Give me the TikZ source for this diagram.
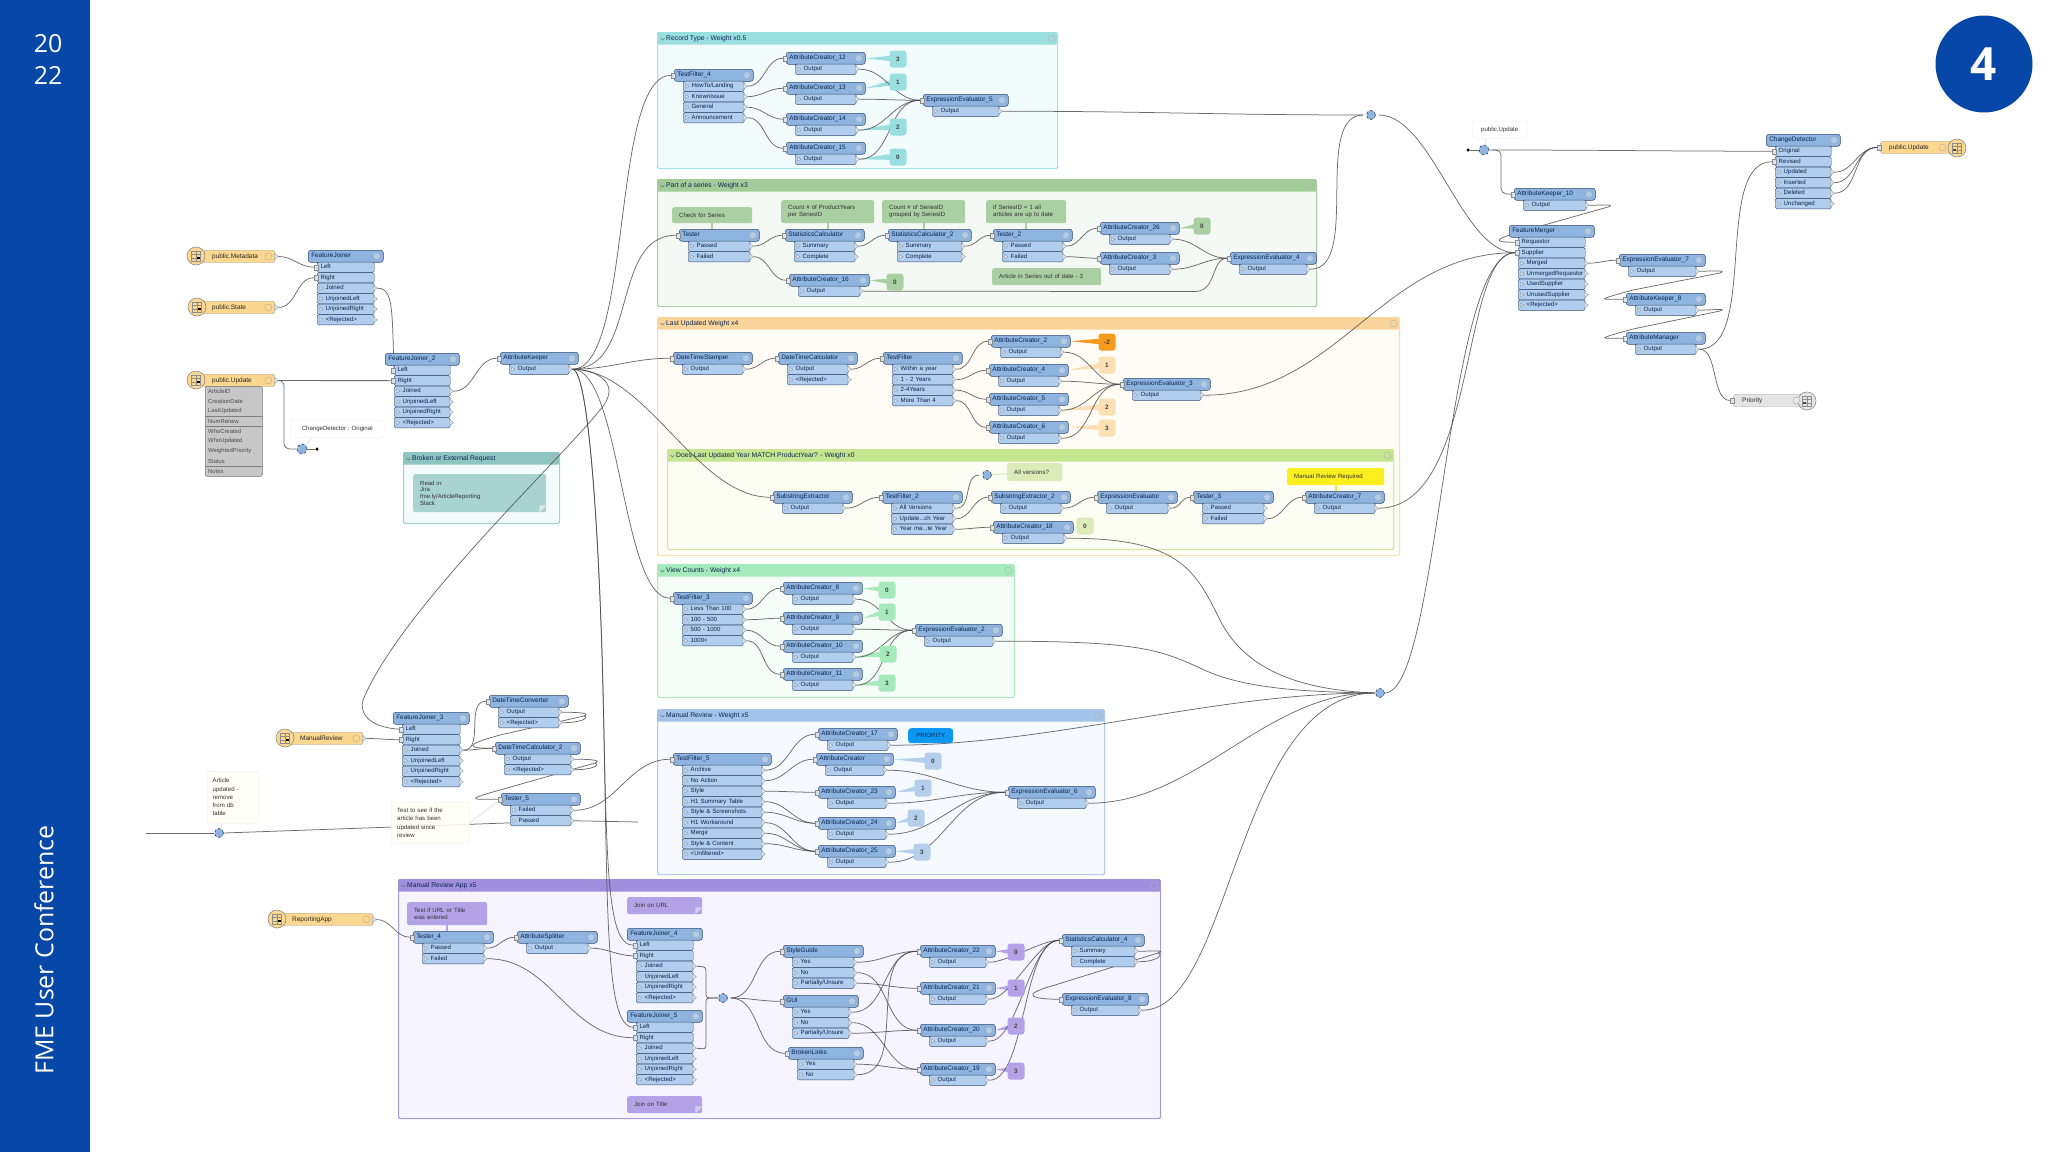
\documentclass[tikz,border=0pt]{standalone}
\usepackage{fontspec}
\setmainfont{Liberation Sans}
\newfontfamily\osans{Open Sans}
\usetikzlibrary{calc}
\newcommand\ddd{.\kern0pt.\kern0pt.}
\newcommand\rp{10.5}
\newcommand\ro{17.2}
\pgfdeclarelayer{bgl}\pgfdeclarelayer{wirel}
\pgfsetlayers{bgl,wirel,main}
\definecolor{navy}{HTML}{0B2450}
\definecolor{slide}{HTML}{0647A8}
\definecolor{tTitle}{HTML}{8FB4E0}
\definecolor{tRow}{HTML}{B2CEEE}
\definecolor{tEdge}{HTML}{31496E}
\definecolor{tabc}{HTML}{D9E3EF}
\definecolor{rdrc}{HTML}{FBD78F}
\definecolor{priN}{HTML}{0C97F2}
\definecolor{oraN}{HTML}{F59A1C}
\definecolor{yelN}{HTML}{FBEF1F}
\definecolor{rtH}{HTML}{9ADFE0}\definecolor{rtE}{HTML}{A3E5E6}\definecolor{rtB}{HTML}{F3FCFD}
\definecolor{psH}{HTML}{A1CC98}\definecolor{psE}{HTML}{AAD1A3}\definecolor{psB}{HTML}{F5F9F5}\definecolor{psN}{HTML}{A9CFA2}
\definecolor{luH}{HTML}{FAD59B}\definecolor{luE}{HTML}{FADFB0}\definecolor{luB}{HTML}{FFFCF5}\definecolor{luN}{HTML}{FBE0B4}
\definecolor{lmH}{HTML}{C6E590}\definecolor{lmE}{HTML}{D0E8A2}\definecolor{lmB}{HTML}{FCFDF3}\definecolor{lmN}{HTML}{DDEBB9}
\definecolor{vcH}{HTML}{A6E9BA}\definecolor{vcE}{HTML}{ADEBC1}\definecolor{vcB}{HTML}{F4FDF7}
\definecolor{mrH}{HTML}{A3C4E8}\definecolor{mrE}{HTML}{B1CCE8}\definecolor{mrB}{HTML}{F6FAFE}\definecolor{mrN}{HTML}{B4CFEC}
\definecolor{apH}{HTML}{A08FDC}\definecolor{apE}{HTML}{A99BDF}\definecolor{apB}{HTML}{F6F4FF}\definecolor{apN}{HTML}{B3A3E6}
\definecolor{beH}{HTML}{8EC5C1}\definecolor{beE}{HTML}{A6D0D0}\definecolor{beB}{HTML}{F3FBFB}\definecolor{beN}{HTML}{A9D3CF}
\tikzset{
  tft/.style={anchor=north west,rectangle,rounded corners=2.5bp,fill=tTitle,draw=tEdge,line width=.5bp,
     minimum height=12bp,inner xsep=3bp,inner ysep=0pt,align=left,font=\fontsize{6.5}{7}\selectfont,text=navy},
  tfr/.style={anchor=west,rectangle,rounded corners=1.5bp,fill=tRow,draw=tEdge,line width=.45bp,
     inner xsep=2bp,inner ysep=0pt,align=left,font=\fontsize{6.1}{7}\selectfont,text=navy},
  wire/.style={draw=black!72,line width=.75bp,draw opacity=.8},
  tab/.style={fill=tabc,draw=black!45,line width=.3bp},
  gear/.style={circle,minimum size=7bp,inner sep=0pt,fill=tTitle!70!white,draw=black!35,line width=.3bp},
  junc/.style={circle,minimum size=10bp,inner sep=0pt,fill=tTitle,draw=tEdge,line width=.6bp,densely dashed},
  rbar/.style={anchor=north west,rectangle,rounded corners=3bp,draw=black!35,line width=.4bp,minimum height=12.5bp,
     inner xsep=0pt,inner ysep=0pt,align=left,font=\fontsize{6.5}{7}\selectfont,text=black!85},
  note/.style={rectangle,rounded corners=2bp,inner sep=3bp,align=left,font=\fontsize{6.1}{7}\selectfont,text=black!80},
  wnote/.style={note,anchor=north west,fill=yellow!3,draw=black!8,font=\fontsize{6.1}{8.3}\selectfont},
  numn/.style={rectangle,rounded corners=3bp,inner sep=0pt,minimum size=17bp,align=center,font=\bfseries\fontsize{6.4}{7}\selectfont,text=black!75},
  bmt/.style={anchor=west,inner sep=0pt,font=\fontsize{6.8}{8}\selectfont,text=navy},
  side/.style={text=white,font=\osans\fontsize{25}{27}\selectfont,inner sep=0pt}
}
% row of a transformer: name, x, y-centre, w, text, indent
\newcommand\trow[6]{%
  \node[tfr,minimum width=#4 bp,minimum height={(\rp-.2)*1bp},text width={(#4-4)*1bp}] (#1) at (#2,#3) {\hspace*{#6bp}\mbox{\vphantom{Ag}#5}};
}
\newcommand\outtab[1]{\path[tab] ([xshift=-1bp,yshift=3bp]#1.east) -- ([xshift=3bp]#1.east) -- ([xshift=-1bp,yshift=-3bp]#1.east) -- cycle;
  \path[tab] ([xshift=2.5bp,yshift=2bp]#1.west) -- ([xshift=6bp]#1.west) -- ([xshift=2.5bp,yshift=-2bp]#1.west) -- cycle;}
\newcommand\intab[1]{\path[tab] ([xshift=-3bp,yshift=2.5bp]#1.west) -- ([xshift=1bp,yshift=2.5bp]#1.west) -- ([xshift=1bp,yshift=-2.5bp]#1.west) -- ([xshift=-3bp,yshift=-2.5bp]#1.west) -- cycle;}
\newcommand\ttitle[5]{%
  \node[tft,minimum width=#4 bp,text width={(#4-6)*1bp}] (#1) at (#2,#3) {\mbox{\vphantom{Ag}#5}};
  \node[gear] (#1-g) at ([xshift=-6.5bp]#1.east) {};
}
% ordinary transformer: name x y w title outputs
\newcommand\tf[6]{%
  \ttitle{#1}{#2}{#3}{#4}{#5}\intab{#1}
  \pgfmathsetmacro\rx{#2+9}\pgfmathsetmacro\rw{#4-18}
  \foreach \t [count=\k] in {#6}{%
    \pgfmathsetmacro\ry{#3+\ro+(\k-1)*\rp}
    \trow{#1-o\k}{\rx}{\ry}{\rw}{\t}{6.5}\outtab{#1-o\k}
  }%
}
% two-input transformer: name x y w title in1 in2 outputs
\newcommand\tj[8]{%
  \ttitle{#1}{#2}{#3}{#4}{#5}
  \pgfmathsetmacro\rx{#2+9}\pgfmathsetmacro\rw{#4-18}
  \pgfmathsetmacro\ry{#3+\ro}\trow{#1-i1}{\rx}{\ry}{\rw}{#6}{1.5}\intab{#1-i1}
  \pgfmathsetmacro\ry{#3+\ro+\rp}\trow{#1-i2}{\rx}{\ry}{\rw}{#7}{1.5}\intab{#1-i2}
  \foreach \t [count=\k] in {#8}{%
    \pgfmathsetmacro\ry{#3+\ro+(\k+1)*\rp}
    \trow{#1-o\k}{\rx}{\ry}{\rw}{\t}{6.5}\outtab{#1-o\k}
  }%
}
% bookmark: name x0 y0 x1 y1 H E B title
\newcommand\bm[9]{%
  \begin{pgfonlayer}{bgl}
  \node[anchor=north west,rectangle,rounded corners=1.5bp,fill=#8,draw=#7,line width=1.2bp,inner sep=0pt,
     minimum width={(#4-#2)*1bp},minimum height={(#5-#3)*1bp}] (#1) at (#2,#3) {};
  \node[anchor=north west,rectangle,rounded corners=1bp,fill=#6,inner sep=0pt,
     minimum width={(#4-#2)*1bp},minimum height=12.5bp] (#1-h) at (#2,#3) {};
  \node[bmt] (#1-t) at ([xshift=9bp]#1-h.west) {#9};
  \node[circle,minimum size=7bp,inner sep=0pt,draw=black!30,line width=.4bp] (#1-g) at ([xshift=-6bp]#1-h.east) {};
  \draw[black!55,line width=.5bp] ([xshift=3.5bp,yshift=.5bp]#1-h.west) -- ([xshift=5.5bp,yshift=-1.5bp]#1-h.west) -- ([xshift=7.5bp,yshift=.5bp]#1-h.west);
  \end{pgfonlayer}
}
% numbered note: name cx cy colour text target
\newcommand\num[6]{%
  \node[numn,fill=#4] (#1) at (#2,#3) {#5};
  \begin{pgfonlayer}{wirel}
  \fill[#4] ([yshift=4bp]#1.center) -- (#6.east) -- ([yshift=-3bp]#1.center) -- cycle;
  \end{pgfonlayer}
}
% text note: name x0 y0 x1 y1 colour text
\newcommand\nt[7]{%
  \node[note,anchor=north west,fill=#6,minimum width={(#4-#2)*1bp},minimum height={(#5-#3)*1bp},text width={(#4-#2-14)*1bp},inner xsep=7bp] (#1) at (#2,#3) {#7};
}
\newcommand\stem[3]{\begin{pgfonlayer}{wirel}\draw[#3,line width=1.6bp] (#1.south) -- (#1.south |- #2.north);\end{pgfonlayer}}
% table icon in a circle
\newcommand\dbc[4]{%
  \node[circle,minimum size=18bp,inner sep=0pt,fill=#4,draw=black!45,line width=.6bp] (#1) at (#2,#3) {};
  \draw[black!45,line width=.4bp] ($(#1)+(-4.5,-5)$) rectangle ($(#1)+(4.5,5)$)
     ($(#1)+(-4.5,-1.7)$) -- ($(#1)+(4.5,-1.7)$) ($(#1)+(-4.5,1.7)$) -- ($(#1)+(4.5,1.7)$) ($(#1)+(0,-5)$) -- ($(#1)+(0,5)$);
}
% reader: name x0 y x1 cx cy text
\newcommand\rdr[7]{%
  \node[rbar,fill=rdrc,minimum width={(#4-#2)*1bp},text width={(#4-#2)*1bp}] (#1) at (#2,#3) {\hspace*{10bp}\mbox{\vphantom{Ag}#7}};
  \dbc{#1-c}{#5}{#6}{rdrc}
  \fill[black] ($(#1-c)+(1,.5)$) rectangle ($(#1-c)+(4,2.5)$);
  \node[gear,fill=rdrc] (#1-g) at ([xshift=-7bp]#1.east) {};
  \path[tab] ([xshift=-1bp,yshift=3bp]#1.east) -- ([xshift=3bp]#1.east) -- ([xshift=-1bp,yshift=-3bp]#1.east) -- cycle;
}
% writer: name x0 y x1 cx cy text fill
\newcommand\wtr[8]{%
  \node[rbar,fill=#8,minimum width={(#4-#2)*1bp},text width={(#4-#2)*1bp}] (#1) at (#2,#3) {\hspace*{9bp}\mbox{\vphantom{Ag}#7}};
  \dbc{#1-c}{#5}{#6}{#8}
  \fill[black!70] ($(#1-c)+(-4,.5)$) rectangle ($(#1-c)+(-1,2.5)$);
  \node[gear,fill=#8] (#1-g) at ([xshift=-12bp]#1.east) {};
  \intab{#1}
}
\newcommand\wire[3][1]{\draw[wire] ([xshift=3bp]#2.east) to[out=0,in=180,looseness=#1] ([xshift=-3bp]#3.west);}
% back loop: from, to, right tip x y, left tip x y
\newcommand\backw[6]{\draw[wire] ([xshift=3bp]#1.east) .. controls +(14,0) and +(8,-3) .. (#3,#4) -- (#5,#6) .. controls +(-40,11) and +(-22,0) .. ([xshift=-3bp]#2.west);}
\newcommand\tipw[3]{\draw[wire] ([xshift=3bp]#1.east) .. controls +(18,0) and +(6,2) .. (#2,#3);}
\begin{document}
\begin{tikzpicture}[x=1bp,y=-1bp]
\useasboundingbox (0,0) rectangle (2048,1152);
% slide furniture
\node[anchor=north west,rectangle,fill=slide,inner sep=0pt,minimum width=90bp,minimum height=1152bp] (panel) at (0,0) {};
\node[side] (y1) at (48,44) {20};
\node[side] (y2) at (48,75) {22};
\node[side,rotate=90] (conf) at (44,950) {FME User Conference};
\node[circle,fill=slide,minimum size=97bp,inner sep=0pt,text=white,font=\osans\bfseries\fontsize{46}{48}\selectfont] (badge) at (1984,64) {4};

% bookmarks
\bm{bRT}{657}{32}{1057}{168}{rtH}{rtE}{rtB}{Record Type - Weight x0.5}
\bm{bPS}{657}{179}{1316}{306}{psH}{psE}{psB}{Part of a series - Weight x3}
\bm{bLU}{657}{317}{1399}{555}{luH}{luE}{luB}{Last Updated Weight x4}
\bm{bLM}{667}{449}{1393}{549}{lmH}{lmE}{lmB}{Does Last Updated Year MATCH ProductYear? - Weight x0}
\bm{bVC}{657}{564}{1014}{697}{vcH}{vcE}{vcB}{View Counts - Weight x4}
\bm{bMR}{657}{709}{1104}{874}{mrH}{mrE}{mrB}{Manual Review - Weight x5}
\bm{bAP}{398}{879}{1160}{1118}{apH}{apE}{apB}{Manual Review App x5}
\bm{bBE}{403}{452}{559}{523}{beH}{beE}{beB}{Broken or External Request}
\begin{pgfonlayer}{bgl}
\node[note,anchor=north west,fill=beN,minimum width=133bp,minimum height=38bp,text width=119bp,inner xsep=7bp,inner ysep=3bp,font=\fontsize{6}{6.9}\selectfont] (nBE) at (413,474) {Read in:\\Jira\\fme.ly/ArticleReporting\\Slack};
\fill[white!60!beN] ([xshift=-7bp]nBE.south east) -- ([yshift=7bp]nBE.south east) -- ([xshift=-7bp,yshift=7bp]nBE.south east) -- cycle;
\end{pgfonlayer}

% left feeders
\rdr{md}{202}{250}{275}{196}{256}{public.Metadata}
\rdr{st}{202}{301}{275}{197}{307}{public.State}
\rdr{up}{202}{374}{275}{196}{380}{public.Update}
\node[anchor=north west,rectangle,fill=black!22,draw=black!55,line width=.5bp,rounded corners=1.5bp,inner sep=0pt,minimum width=57bp,minimum height=90bp] (attrs) at (205,386) {};
\foreach \t [count=\k] in {ArticleID,CreationDate,LastUpdated,NumRenew,WhoCreated,WhoUpdated,WeightedPriority,Status,Notes}{
  \pgfmathsetmacro\ry{391+(\k-1)*10}
  \node[anchor=west,inner sep=0pt,font=\fontsize{5.9}{7}\selectfont,text=black!70] (attr\k) at (208,\ry) {\t};
}
\draw[black!50,line width=.5bp] (205,416) -- (262,416) (205,426) -- (262,426) (205,466) -- (262,466);
\tj{fj}{308}{250}{75}{FeatureJoiner}{Left}{Right}{Joined,UnjoinedLeft,UnjoinedRight,<Rejected>}
\tj{fj2}{385}{353}{74}{FeatureJoiner\_2}{Left}{Right}{Joined,UnjoinedLeft,UnjoinedRight,<Rejected>}
\tf{ak}{500}{352}{78}{AttributeKeeper}{Output}
\node[note,anchor=north west,fill=white,draw=black!8,minimum width=94bp,minimum height=17bp,inner xsep=6bp] (nCD) at (290,420) {ChangeDetector : Original};
\node[junc] (j0) at (302,449) {};
\node[circle,fill=black,inner sep=0pt,minimum size=3.5bp] (d0) at (317,449) {};

% Record type
\tf{tf4}{674}{69}{79}{TestFilter\_4}{HowTo/Landing,KnownIssue,General,Announcement}
\tf{ac12}{786}{52}{79}{AttributeCreator\_12}{Output}
\tf{ac13}{786}{82}{79}{AttributeCreator\_13}{Output}
\tf{ac14}{786}{113}{79}{AttributeCreator\_14}{Output}
\tf{ac15}{786}{142}{79}{AttributeCreator\_15}{Output}
\tf{ee5}{923}{94}{85}{ExpressionEvaluator\_5}{Output}
\num{n12}{898}{59}{rtH}{3}{ac12}
\num{n13}{898}{82}{rtH}{1}{ac13}
\num{n14}{898}{127}{rtH}{2}{ac14-o1}
\num{n15}{898}{157}{rtH}{0}{ac15-o1}
\node[junc,minimum size=9bp] (j1) at (1371,115) {};

% Part of a series
\nt{nS1}{672}{207}{752}{223}{psN}{Check for Series}
\nt{nS2}{781}{200}{874}{223}{psN}{Count \# of ProductYears\\per SeriesID}
\nt{nS3}{882}{200}{965}{223}{psN}{Count \# of SeriesID\\grouped by SeriesID}
\nt{nS4}{986}{200}{1066}{223}{psN}{If SeriesID = 1 all\\articles are up to date}
\tf{tester}{679}{229}{80}{Tester}{Passed,Failed}
\tf{sc}{785}{229}{79}{StatisticsCalculator}{Summary,Complete}
\tf{sc2}{888}{229}{83}{StatisticsCalculator\_2}{Summary,Complete}
\tf{tester2}{993}{229}{79}{Tester\_2}{Passed,Failed}
\tf{ac16}{789}{274}{80}{AttributeCreator\_16}{Output}
\tf{ac26}{1100}{222}{79}{AttributeCreator\_26}{Output}
\tf{ac3}{1100}{252}{79}{AttributeCreator\_3}{Output}
\tf{ee4}{1230}{252}{86}{ExpressionEvaluator\_4}{Output}
\num{n16}{895}{282}{psN}{0}{ac16}
\num{n26}{1202}{226}{psN}{0}{ac26}
\nt{nS5}{992}{268}{1101}{285}{psN}{Article in Series out of date - 3}
\stem{nS1}{tester}{psN}\stem{nS2}{sc}{psN}\stem{nS3}{sc2}{psN}\stem{nS4}{tester2}{psN}
\begin{pgfonlayer}{wirel}\fill[psN] (1050,268) -- (ac3-o1.west) -- (1070,268) -- cycle;\end{pgfonlayer}

% Last updated
\tf{dts}{673}{352}{79}{DateTimeStamper}{Output}
\tf{dtc}{778}{352}{79}{DateTimeCalculator}{Output,<Rejected>}
\tf{tfl}{883}{352}{79}{TestFilter}{Within a year,1 - 2 Years,2-4Years,More Than 4}
\tf{ac2}{991}{335}{79}{AttributeCreator\_2}{Output}
\tf{ac4}{989}{364}{79}{AttributeCreator\_4}{Output}
\tf{ac5}{989}{393}{79}{AttributeCreator\_5}{Output}
\tf{ac6}{989}{421}{79}{AttributeCreator\_6}{Output}
\tf{ee3}{1123}{378}{87}{ExpressionEvaluator\_3}{Output}
\num{nA2}{1107}{342}{oraN}{-2}{ac2}
\num{nA4}{1107}{365}{luN}{1}{ac4}
\num{nA5}{1107}{407}{luN}{2}{ac5-o1}
\num{nA6}{1107}{428}{luN}{3}{ac6}

% year match
\tf{sse}{773}{491}{79}{SubstringExtractor}{Output}
\tf{tf2}{882}{491}{80}{TestFilter\_2}{All Versions,Update\ddd{}ch Year,Year ma\ddd{}te Year}
\node[junc,minimum size=9bp] (j4) at (987,475) {};
\nt{nLM}{1007}{463}{1062}{481}{lmN}{All versions?}
\tf{sse2}{991}{491}{79}{SubstringExtractor\_2}{Output}
\tf{ac18}{993}{521}{80}{AttributeCreator\_18}{Output}
\num{n18}{1085}{526}{lmN}{0}{ac18}
\tf{ee}{1097}{491}{80}{ExpressionEvaluator}{Output}
\tf{t3}{1193}{491}{80}{Tester\_3}{Passed,Failed}
\tf{ac7}{1305}{491}{79}{AttributeCreator\_7}{Output}
\nt{nMR}{1287}{468}{1384}{485}{yelN}{Manual Review Required}
\stem{nMR}{ac7}{yelN}
\begin{pgfonlayer}{wirel}\draw[lmN,line width=1bp] (j4) -- (nLM);\end{pgfonlayer}

% view counts
\tf{tf3}{673}{592}{79}{TestFilter\_3}{Less Than 100,100 - 500,500 - 1000,1000+}
\tf{ac8}{783}{582}{79}{AttributeCreator\_8}{Output}
\tf{ac9}{783}{612}{79}{AttributeCreator\_9}{Output}
\tf{ac10}{783}{640}{79}{AttributeCreator\_10}{Output}
\tf{ac11}{783}{668}{79}{AttributeCreator\_11}{Output}
\tf{ee2}{915}{624}{87}{ExpressionEvaluator\_2}{Output}
\num{nV8}{887}{590}{vcH}{0}{ac8}
\num{nV9}{887}{612}{vcH}{1}{ac9}
\num{nV10}{888}{654}{vcH}{2}{ac10-o1}
\num{nV11}{887}{683}{vcH}{3}{ac11-o1}

% manual review
\tf{tf5}{673}{753}{98}{TestFilter\_5}{Archive,No Action,Style,H1 Summary Table,Style \& Screenshots,H1 Workaround,Merge,Style \& Content,<Unfiltered>}
\tf{ac17}{818}{728}{79}{AttributeCreator\_17}{Output}
\tf{acm}{816}{753}{77}{AttributeCreator}{Output}
\tf{ac23}{818}{786}{77}{AttributeCreator\_23}{Output}
\tf{ac24}{818}{817}{77}{AttributeCreator\_24}{Output}
\tf{ac25}{818}{845}{77}{AttributeCreator\_25}{Output}
\tf{ee6}{1008}{786}{87}{ExpressionEvaluator\_6}{Output}
\node[note,anchor=north west,fill=priN,rounded corners=3bp,minimum width=45bp,minimum height=15bp,inner sep=0pt,align=center,text=navy] (nPR) at (908,728) {PRIORITY};
\num{nM0}{933}{761}{mrN}{0}{acm}
\num{nM1}{923}{788}{mrN}{1}{ac23}
\num{nM2}{916}{818}{mrN}{2}{ac24}
\num{nM3}{922}{852}{mrN}{3}{ac25}
\node[junc,minimum size=9bp] (j2) at (1380,693) {};

% manual review feeder
\rdr{mr}{290}{732}{363}{285}{738}{ManualReview}
\tj{fj3}{393}{712}{76}{FeatureJoiner\_3}{Left}{Right}{Joined,UnjoinedLeft,UnjoinedRight,<Rejected>}
\tf{conv}{489}{695}{79}{DateTimeConverter}{Output,<Rejected>}
\tf{dtc2}{495}{742}{85}{DateTimeCalculator\_2}{Output,<Rejected>}
\tf{t5}{501}{793}{79}{Tester\_5}{Failed,Passed}
\node[wnote,minimum width=51bp,minimum height=52bp,text width=40bp,inner xsep=5bp] (nAU) at (207,771) {Article\\updated -\\remove\\from db\\table};
\node[junc,minimum size=9bp] (j5) at (219,833) {};
\coordinate (c5a) at (146,833);
\coordinate (c5b) at (638,822);
\node[wnote,fill opacity=.88,text opacity=1,minimum width=78bp,minimum height=41bp,text width=66bp,inner xsep=6bp] (nTS) at (391,802) {Test to see if the\\article has been\\updated since\\review};

% review app
\rdr{ra}{282}{913}{373}{277}{919}{ReportingApp}
\nt{nT4}{407}{902}{487}{925}{apN}{Test if URL or Title\\was entered}
\tf{t4}{413}{931}{80}{Tester\_4}{Passed,Failed}
\tf{as}{517}{931}{80}{AttributeSplitter}{Output}
\nt{nJ1}{627}{897}{702}{914}{apN}{Join on URL}
\nt{nJ2}{627}{1096}{702}{1113}{apN}{Join on Title}
\foreach \n in {nJ1,nJ2}{\fill[apE!50!white] ([xshift=-7bp]\n.south east) -- ([yshift=7bp]\n.south east) -- ([xshift=-7bp,yshift=7bp]\n.south east) -- cycle;}
\tj{fj4}{627}{928}{75}{FeatureJoiner\_4}{Left}{Right}{Joined,UnjoinedLeft,UnjoinedRight,<Rejected>}
\tj{fj5}{627}{1010}{75}{FeatureJoiner\_5}{Left}{Right}{Joined,UnjoinedLeft,UnjoinedRight,<Rejected>}
\node[junc,minimum size=9bp] (j6) at (723,998) {};
\tf{sg}{783}{945}{80}{StyleGuide}{Yes,No,Partially/Unsure}
\tf{gui}{783}{995}{75}{GUI}{Yes,No,Partially/Unsure}
\tf{bl}{788}{1047}{75}{BrokenLinks}{Yes,No}
\tf{ac22}{920}{945}{75}{AttributeCreator\_22}{Output}
\tf{ac21}{920}{982}{75}{AttributeCreator\_21}{Output}
\tf{ac20}{920}{1024}{75}{AttributeCreator\_20}{Output}
\tf{ac19}{920}{1063}{75}{AttributeCreator\_19}{Output}
\num{nP0}{1016}{952}{apN}{0}{ac22}
\num{nP1}{1016}{988}{apN}{1}{ac21}
\num{nP2}{1016}{1026}{apN}{2}{ac20}
\num{nP3}{1016}{1071}{apN}{3}{ac19}
\tf{sc4}{1062}{934}{82}{StatisticsCalculator\_4}{Summary,Complete}
\tf{ee8}{1062}{993}{86}{ExpressionEvaluator\_8}{Output}
\stem{nT4}{t4}{apN}

% right side
\node[note,anchor=north west,fill=white,draw=black!8,minimum width=55bp,minimum height=17bp,inner xsep=6bp] (nPU) at (1472,121) {public.Update};
\node[junc,minimum size=10bp] (j3) at (1484,150) {};
\node[circle,fill=black,inner sep=0pt,minimum size=3.5bp] (d3) at (1468,150) {};
\tf{ak10}{1514}{188}{81}{AttributeKeeper\_10}{Output}
\tj{fm}{1509}{225}{85}{FeatureMerger}{Requestor}{Supplier}{Merged,UnmergedRequestor,UsedSupplier,UnusedSupplier,<Rejected>}
\tf{ee7}{1619}{254}{86}{ExpressionEvaluator\_7}{Output}
\tf{ak8}{1626}{293}{79}{AttributeKeeper\_8}{Output}
\tf{am}{1626}{332}{79}{AttributeManager}{Output}
\tj{cd}{1766}{134}{74}{ChangeDetector}{Original}{Revised}{Updated,Inserted,Deleted,Unchanged}
\wtr{pu}{1880}{141}{1954}{1957}{148}{public.Update}{rdrc}
\wtr{pr}{1733}{394}{1808}{1807}{401}{Priority}{black!10}

\begin{pgfonlayer}{wirel}
\draw[black!8,line width=1.2bp] (nCD.south west) ++(22,0) -- (j0);
\draw[black!8,line width=1.2bp] (nPU.south west) ++(14,0) -- (j3);
\draw[black!8,line width=1.2bp] (nAU) -- (j5);
\draw[black!8,line width=1.2bp] (nTS.east) -- (t5.west);
% left part
\wire{md}{fj-i1}\wire{st}{fj-i2}
\draw[wire] ([xshift=3bp]fj-o1.east) .. controls +(16,0) and +(-2,-60) .. (fj2-i1.west);
\draw[wire,line width=.9bp] ([xshift=3bp]up.east) -- ([xshift=-3bp]fj2-i2.west);
\draw[wire,rounded corners=6bp] ([xshift=3bp]up.east) -- (284,380) -- (284,449) -- (j0.west);
\draw[wire] (j0.east) -- (d0);
\wire{fj2-o1}{ak}
% fan out of AttributeKeeper
\wire[.5]{ak-o1}{tf4}
\wire{ak-o1}{tester}
\wire{ak-o1}{dts}
\wire[.8]{ak-o1}{sse}
\wire[.5]{ak-o1}{tf3}
\draw[wire] ([xshift=3bp]ak-o1.east) .. controls (590,370) and (600,560) .. (603,690) .. controls (607,860) and (606,945) .. ([xshift=-3bp]fj4-i1.west);
\draw[wire] ([xshift=3bp]ak-o1.east) .. controls (590,370) and (600,560) .. (603,690) .. controls (608,900) and (604,1027) .. ([xshift=-3bp]fj5-i1.west);
\draw[wire] ([xshift=3bp]ak-o1.east) .. controls (600,370) and (622,385) .. (600,410) .. controls (560,460) and (400,610) .. (363,700) .. controls (358,720) and (380,728) .. ([xshift=-3bp]fj3-i1.west);
% record type
\wire{tf4-o1}{ac12}\wire{tf4-o2}{ac13}\wire{tf4-o3}{ac14}\wire{tf4-o4}{ac15}
\wire{ac12-o1}{ee5}\wire{ac13-o1}{ee5}\wire{ac14-o1}{ee5}\wire{ac15-o1}{ee5}
\wire{ee5-o1}{j1}
\wire[.7]{j1}{fm-i2}
% series
\wire{tester-o1}{sc}\wire{sc-o1}{sc2}\wire{sc2-o1}{tester2}\wire{tester-o2}{ac16}
\wire{tester2-o1}{ac26}\wire{tester2-o2}{ac3}
\wire{ac26-o1}{ee4}\wire{ac3-o1}{ee4}
\draw[wire] ([xshift=3bp]ac16-o1.east) -- (1195,291.5) .. controls +(22,0) and +(-16,0) .. ([xshift=-3bp]ee4.west);
\wire[.8]{ee4-o1}{j1}
% last updated
\wire{dts-o1}{dtc}\wire{dtc-o1}{tfl}
\wire{tfl-o1}{ac2}\wire{tfl-o2}{ac4}\wire{tfl-o3}{ac5}\wire{tfl-o4}{ac6}
\wire{ac2-o1}{ee3}\wire{ac4-o1}{ee3}\wire{ac5-o1}{ee3}\wire{ac6-o1}{ee3}
\wire{ee3-o1}{fm-i2}
% match
\wire{sse-o1}{tf2}\wire{tf2-o1}{j4}\wire{tf2-o2}{sse2}\wire{tf2-o3}{ac18}
\wire{sse2-o1}{ee}\wire{ee-o1}{t3}\wire{t3-o2}{ac7}
\draw[wire] ([xshift=3bp]ac7-o1.east) .. controls +(100,0) and +(-55,0) .. ([xshift=-3bp]fm-i2.west);
\draw[wire] ([xshift=3bp]ac18-o1.east) .. controls (1180,538) and (1195,570) .. (1220,620) .. controls (1245,670) and (1300,690) .. (j2.west);
% view counts
\wire{tf3-o1}{ac8}\wire{tf3-o2}{ac9}\wire{tf3-o3}{ac10}\wire{tf3-o4}{ac11}
\wire{ac8-o1}{ee2}\wire{ac9-o1}{ee2}\wire{ac10-o1}{ee2}\wire{ac11-o1}{ee2}
\draw[wire] ([xshift=3bp]ee2-o1.east) .. controls (1140,641) and (1160,650) .. (1200,668) .. controls (1240,688) and (1300,692) .. (j2.west);
% manual review
\wire{tf5-o1}{ac17}\wire{tf5-o2}{acm}\wire{tf5-o3}{ac23}
\wire{tf5-o4}{ac24}\wire{tf5-o5}{ac24}
\wire{tf5-o6}{ac25}\wire{tf5-o7}{ac25}\wire{tf5-o8}{ac25}
\wire{acm-o1}{ee6}\wire{ac23-o1}{ee6}\wire{ac24-o1}{ee6}\wire{ac25-o1}{ee6}
\wire[.85]{ac17-o1}{j2}
\wire[.9]{ee6-o1}{j2}
% feeder
\wire{mr}{fj3-i2}
\wire{fj3-o1}{conv}\wire{fj3-o1}{dtc2}
\backw{conv-o1}{dtc2}{584}{716}{500}{735}
\tipw{conv-o2}{584}{716}
\backw{dtc2-o1}{t5}{595}{763}{500}{790}
\tipw{dtc2-o2}{595}{763}
\wire{t5-o1}{tf5}
\draw[wire,line width=1bp] (c5a) -- (j5.west);
\draw[wire] (j5.east) -- (t5-o2.east) -- (c5b);
% app
\wire{ra}{t4}\wire{t4-o1}{as}\wire{as-o1}{fj4-i2}\wire{t4-o2}{fj5-i2}
\draw[wire,rounded corners=3bp] ([xshift=3bp]fj4-o1.east) -- (706,967) -- (706,998) -- (j6.west);
\draw[wire,rounded corners=3bp] ([xshift=3bp]fj5-o1.east) -- (706,1049) -- (706,998) -- (j6.west);
\wire{j6}{sg}\wire{j6}{gui}\wire{j6}{bl}
\wire{sg-o1}{ac22}\wire{sg-o2}{ac20}\wire{sg-o3}{ac21}
\wire{gui-o1}{ac22}\wire{gui-o2}{ac19}\wire{gui-o3}{ac20}
\wire{bl-o1}{ac19}\wire{bl-o2}{ac22}
\wire[.6]{ac22-o1}{sc4}\wire[.6]{ac21-o1}{sc4}\wire[.6]{ac20-o1}{sc4}\wire[.6]{ac19-o1}{sc4}
\backw{sc4-o1}{ee8}{1158}{953}{1055}{985}
\tipw{sc4-o2}{1158}{953}
\draw[wire] ([xshift=3bp]ee8-o1.east) .. controls +(90,0) and +(-140,0) .. (j2.west);
\draw[wire] (j2.east) .. controls +(55,0) and +(-70,0) .. ([xshift=-3bp]fm-i2.west);
% right
\draw[wire] (d3) -- (j3.west);
\wire{j3}{cd-i1}
\draw[wire,rounded corners=5bp] (j3.east) -- (1501,150) -- (1501,193.5) -- ([xshift=-3bp]ak10.west);
\backw{ak10-o1}{fm-i1}{1608}{207}{1530}{229}
\wire{fm-o1}{ee7}
\backw{ee7-o1}{ak8}{1720}{273}{1633}{290}
\backw{ak8-o1}{am}{1720}{311}{1633}{329}
\wire[.75]{am-o1}{cd-i2}
\wire[.8]{am-o1}{pr}
\wire{cd-o1}{pu}\wire{cd-o2}{pu}\wire{cd-o3}{pu}
\end{pgfonlayer}
\end{tikzpicture}
\end{document}
